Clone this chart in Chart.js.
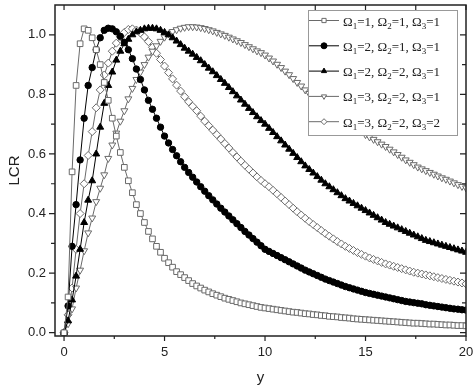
<!DOCTYPE html>
<html>
<head>
<meta charset="utf-8">
<script src="https://cdn.jsdelivr.net/npm/chart.js@4.4.1/dist/chart.umd.min.js"></script>
<style>
  html, body { margin: 0; padding: 0; background: #fff; }
  #wrap { width: 474px; height: 387px; }
</style>
</head>
<body>
<div id="wrap"><canvas id="lcrChart" width="474" height="387"></canvas></div>
<script>
// sampling points on the y axis (0 .. 20, step 0.2)
const yPoints = [
  0, 0.2, 0.4, 0.6, 0.8, 1, 1.2, 1.4, 1.6, 1.8, 2, 2.2, 2.4, 2.6, 2.8, 3, 3.2, 3.4, 3.6, 3.8,
  4, 4.2, 4.4, 4.6, 4.8, 5, 5.2, 5.4, 5.6, 5.8, 6, 6.2, 6.4, 6.6, 6.8, 7, 7.2, 7.4, 7.6, 7.8,
  8, 8.2, 8.4, 8.6, 8.8, 9, 9.2, 9.4, 9.6, 9.8, 10, 10.2, 10.4, 10.6, 10.8, 11, 11.2, 11.4, 11.6, 11.8,
  12, 12.2, 12.4, 12.6, 12.8, 13, 13.2, 13.4, 13.6, 13.8, 14, 14.2, 14.4, 14.6, 14.8, 15, 15.2, 15.4, 15.6, 15.8,
  16, 16.2, 16.4, 16.6, 16.8, 17, 17.2, 17.4, 17.6, 17.8, 18, 18.2, 18.4, 18.6, 18.8, 19, 19.2, 19.4, 19.6, 19.8, 20
];

// LCR values
const lcr111 = [
  0, 0.12, 0.54, 0.83, 0.97, 1.02, 1.015, 0.99, 0.95, 0.90, 0.84, 0.78, 0.72, 0.66, 0.605, 0.555, 0.51, 0.47, 0.43, 0.40,
  0.37, 0.34, 0.315, 0.29, 0.27, 0.25, 0.235, 0.22, 0.205, 0.195, 0.185, 0.175, 0.165, 0.157, 0.15, 0.143, 0.137, 0.131, 0.126, 0.121,
  0.116, 0.112, 0.108, 0.104, 0.100, 0.097, 0.094, 0.091, 0.088, 0.085, 0.083, 0.081, 0.079, 0.077, 0.075, 0.073, 0.071, 0.069, 0.068, 0.066,
  0.064, 0.063, 0.061, 0.060, 0.058, 0.057, 0.055, 0.054, 0.053, 0.051, 0.050, 0.049, 0.047, 0.046, 0.045, 0.044, 0.043, 0.042, 0.041, 0.040,
  0.039, 0.038, 0.037, 0.036, 0.035, 0.034, 0.033, 0.032, 0.032, 0.031, 0.030, 0.029, 0.029, 0.028, 0.027, 0.026, 0.026, 0.025, 0.024, 0.024, 0.023
];
const lcr211 = [
  0, 0.09, 0.29, 0.43, 0.58, 0.72, 0.83, 0.89, 0.95, 0.99, 1.015, 1.022, 1.02, 1.01, 0.995, 0.975, 0.95, 0.92, 0.885, 0.85,
  0.815, 0.78, 0.75, 0.72, 0.69, 0.66, 0.637, 0.615, 0.594, 0.574, 0.555, 0.538, 0.522, 0.506, 0.49, 0.475, 0.46, 0.446, 0.432, 0.418,
  0.405, 0.392, 0.379, 0.366, 0.353, 0.34, 0.328, 0.316, 0.304, 0.292, 0.28, 0.273, 0.266, 0.259, 0.252, 0.245, 0.238, 0.231, 0.224, 0.217,
  0.21, 0.204, 0.198, 0.192, 0.186, 0.18, 0.175, 0.17, 0.165, 0.16, 0.155, 0.151, 0.147, 0.143, 0.139, 0.135, 0.132, 0.129, 0.126, 0.123,
  0.12, 0.117, 0.114, 0.111, 0.108, 0.105, 0.103, 0.101, 0.099, 0.097, 0.094, 0.092, 0.090, 0.088, 0.086, 0.084, 0.082, 0.080, 0.079, 0.077, 0.076
];
const lcr221 = [
  0, 0.04, 0.11, 0.19, 0.28, 0.37, 0.445, 0.51, 0.60, 0.69, 0.77, 0.83, 0.875, 0.915, 0.945, 0.97, 0.985, 1.0, 1.01, 1.015,
  1.02, 1.022, 1.022, 1.02, 1.015, 1.008, 1.0, 0.99, 0.979, 0.967, 0.955, 0.945, 0.935, 0.924, 0.913, 0.90, 0.888, 0.876, 0.863, 0.85,
  0.837, 0.823, 0.809, 0.795, 0.781, 0.767, 0.753, 0.739, 0.725, 0.712, 0.70, 0.686, 0.672, 0.658, 0.644, 0.63, 0.616, 0.602, 0.588, 0.574,
  0.56, 0.548, 0.536, 0.524, 0.512, 0.50, 0.49, 0.48, 0.47, 0.46, 0.45, 0.442, 0.434, 0.426, 0.418, 0.41, 0.402, 0.394, 0.386, 0.378,
  0.37, 0.364, 0.358, 0.352, 0.346, 0.34, 0.334, 0.328, 0.322, 0.316, 0.31, 0.306, 0.302, 0.298, 0.294, 0.29, 0.286, 0.282, 0.278, 0.274, 0.27
];
const lcr321 = [
  0, 0.03, 0.08, 0.15, 0.21, 0.275, 0.335, 0.385, 0.44, 0.485, 0.53, 0.585, 0.63, 0.67, 0.71, 0.745, 0.785, 0.82, 0.85, 0.875,
  0.90, 0.925, 0.945, 0.963, 0.978, 0.992, 1.003, 1.011, 1.017, 1.022, 1.025, 1.027, 1.027, 1.026, 1.024, 1.021, 1.017, 1.013, 1.008, 1.003,
  0.998, 0.992, 0.986, 0.98, 0.974, 0.967, 0.96, 0.953, 0.946, 0.94, 0.932, 0.922, 0.912, 0.901, 0.89, 0.878, 0.866, 0.853, 0.84, 0.828,
  0.815, 0.803, 0.791, 0.78, 0.769, 0.758, 0.748, 0.738, 0.728, 0.719, 0.71, 0.701, 0.692, 0.683, 0.674, 0.665, 0.657, 0.649, 0.641, 0.633,
  0.625, 0.616, 0.607, 0.598, 0.589, 0.58, 0.572, 0.564, 0.556, 0.55, 0.544, 0.538, 0.532, 0.526, 0.52, 0.515, 0.509, 0.503, 0.497, 0.491, 0.486
];
const lcr322 = [
  0, 0.06, 0.15, 0.28, 0.40, 0.50, 0.595, 0.675, 0.755, 0.815, 0.865, 0.905, 0.945, 0.972, 0.993, 1.008, 1.018, 1.02, 1.016, 1.006,
  0.993, 0.977, 0.958, 0.938, 0.917, 0.895, 0.873, 0.852, 0.831, 0.811, 0.792, 0.775, 0.76, 0.745, 0.727, 0.71, 0.695, 0.68, 0.665, 0.65,
  0.635, 0.62, 0.605, 0.59, 0.576, 0.562, 0.549, 0.536, 0.523, 0.511, 0.50, 0.49, 0.478, 0.466, 0.454, 0.442, 0.43, 0.418, 0.406, 0.395,
  0.384, 0.373, 0.363, 0.353, 0.343, 0.333, 0.324, 0.315, 0.306, 0.298, 0.29, 0.283, 0.276, 0.269, 0.263, 0.257, 0.251, 0.246, 0.241, 0.236,
  0.231, 0.227, 0.223, 0.219, 0.215, 0.211, 0.207, 0.203, 0.20, 0.197, 0.194, 0.191, 0.188, 0.185, 0.182, 0.179, 0.176, 0.173, 0.17, 0.167, 0.164
];

// legend parameters (Omega_1, Omega_2, Omega_3)
const omega1 = [1, 2, 2, 3, 3];
const omega2 = [1, 1, 2, 2, 2];
const omega3 = [1, 1, 1, 1, 2];

const xTickLabels = [0, 5, 10, 15, 20];
const xMinorTicks = [2.5, 7.5, 12.5, 17.5];
const yTickLabels = [0.0, 0.2, 0.4, 0.6, 0.8, 1.0];
const yMinorTicks = [0.1, 0.3, 0.5, 0.7, 0.9];

const gray = '#6a6a6a';
const series = [
  { values: lcr111, style: 'rect',     radius: 4,   rotation: 0,   fill: '#fff', stroke: gray },
  { values: lcr211, style: 'circle',   radius: 3.2, rotation: 0,   fill: '#000', stroke: '#000' },
  { values: lcr221, style: 'triangle', radius: 4,   rotation: 0,   fill: '#000', stroke: '#000' },
  { values: lcr321, style: 'triangle', radius: 4,   rotation: 180, fill: '#fff', stroke: gray },
  { values: lcr322, style: 'rectRot',  radius: 4,   rotation: 0,   fill: '#fff', stroke: gray }
];

const datasets = series.map((s, i) => ({
  label: 'Ω1=' + omega1[i] + ', Ω2=' + omega2[i] + ', Ω3=' + omega3[i],
  data: yPoints.map((x, k) => ({ x: x, y: s.values[k] })),
  borderColor: s.stroke,
  borderWidth: 1,
  backgroundColor: s.fill,
  pointStyle: s.style,
  pointRadius: s.radius,
  pointRotation: s.rotation,
  pointBorderColor: s.stroke,
  pointBackgroundColor: s.fill,
  pointBorderWidth: 1,
  tension: 0,
  fill: false
}));

// box with ticks: outward on left/bottom, inward on top/right
const frame = {
  id: 'frame',
  afterDraw(chart) {
    const { ctx, chartArea: a, scales: { x, y } } = chart;
    ctx.save();
    ctx.strokeStyle = '#222';
    ctx.lineWidth = 1.5;
    ctx.strokeRect(a.left, a.top, a.right - a.left, a.bottom - a.top);
    ctx.lineWidth = 1.2;
    ctx.beginPath();
    const xt = (v, len) => {
      const p = x.getPixelForValue(v);
      ctx.moveTo(p, a.bottom); ctx.lineTo(p, a.bottom + len);
      ctx.moveTo(p, a.top); ctx.lineTo(p, a.top + 5);
    };
    const yt = (v, len) => {
      const p = y.getPixelForValue(v);
      ctx.moveTo(a.left, p); ctx.lineTo(a.left - len, p);
      ctx.moveTo(a.right, p); ctx.lineTo(a.right - len, p);
    };
    xTickLabels.forEach(v => xt(v, 5));
    xMinorTicks.forEach(v => xt(v, 3));
    yTickLabels.forEach(v => yt(v, 6));
    yMinorTicks.forEach(v => yt(v, 4));
    ctx.stroke();
    ctx.restore();
  }
};

// legend box in the upper right corner, with subscripts
const legendBox = {
  id: 'legendBox',
  afterDatasetsDraw(chart) {
    const ctx = chart.ctx;
    const left = 308, top = 10, w = 149, h = 125;
    ctx.save();
    ctx.fillStyle = '#fff';
    ctx.fillRect(left, top, w, h);
    ctx.strokeStyle = '#999';
    ctx.lineWidth = 1;
    ctx.strokeRect(left + 0.5, top + 0.5, w, h);
    series.forEach((s, i) => {
      const cy = top + 10.5 + i * 25.3;
      ctx.strokeStyle = s.stroke;
      ctx.lineWidth = 1;
      ctx.beginPath();
      ctx.moveTo(left + 1, cy);
      ctx.lineTo(left + 31, cy);
      ctx.stroke();
      ctx.fillStyle = s.fill;
      Chart.helpers.drawPoint(ctx, { pointStyle: s.style, radius: 3, rotation: s.rotation, borderWidth: 1 }, left + 16, cy);
      const parts = [
        ['Ω', '1', '=' + omega1[i] + ', '],
        ['Ω', '2', '=' + omega2[i] + ', '],
        ['Ω', '3', '=' + omega3[i]]
      ];
      let tx = left + 35;
      ctx.fillStyle = '#222';
      ctx.textBaseline = 'alphabetic';
      ctx.textAlign = 'left';
      parts.forEach(p => {
        ctx.font = '13px "Liberation Serif"';
        ctx.fillText(p[0], tx, cy + 5);
        tx += ctx.measureText(p[0]).width;
        ctx.font = '9px "Liberation Serif"';
        ctx.fillText(p[1], tx, cy + 8);
        tx += ctx.measureText(p[1]).width;
        ctx.font = '13px "Liberation Serif"';
        ctx.fillText(p[2], tx, cy + 5);
        tx += ctx.measureText(p[2]).width;
      });
    });
    ctx.restore();
  }
};

const tickFont = { family: '"Liberation Sans", Arial, sans-serif', size: 13 };
const noLabelPadding = s => { s.paddingTop = 0; s.paddingBottom = 0; s.paddingLeft = 0; s.paddingRight = 0; };

new Chart(document.getElementById('lcrChart'), {
  type: 'line',
  data: { datasets: datasets },
  plugins: [legendBox, frame],
  options: {
    responsive: false,
    animation: false,
    devicePixelRatio: 1,
    layout: { padding: { top: 2, right: 8, left: 0, bottom: 0 } },
    plugins: { legend: { display: false }, tooltip: { enabled: false } },
    scales: {
      x: {
        type: 'linear',
        min: -0.45,
        max: 20,
        afterBuildTicks: s => { s.ticks = xTickLabels.map(v => ({ value: v })); },
        afterFit: s => { s.height = 51; noLabelPadding(s); },
        grid: { display: false, drawTicks: false },
        border: { display: false },
        ticks: { font: tickFont, color: '#222', padding: 9, maxRotation: 0, callback: v => String(v) },
        title: { display: true, text: 'y', color: '#222', font: { family: '"Liberation Sans", Arial, sans-serif', size: 15 }, padding: { top: 0, bottom: 0 } }
      },
      y: {
        type: 'linear',
        min: -0.011,
        max: 1.1,
        afterBuildTicks: s => { s.ticks = yTickLabels.map(v => ({ value: v })); },
        afterFit: s => { s.width = 55; noLabelPadding(s); },
        grid: { display: false, drawTicks: false },
        border: { display: false },
        ticks: { font: tickFont, color: '#222', padding: 9, callback: v => v.toFixed(1) },
        title: { display: true, text: 'LCR', color: '#222', font: { family: '"Liberation Sans", Arial, sans-serif', size: 15 }, padding: { top: 6, bottom: 0 } }
      }
    }
  }
});
</script>
</body>
</html>
